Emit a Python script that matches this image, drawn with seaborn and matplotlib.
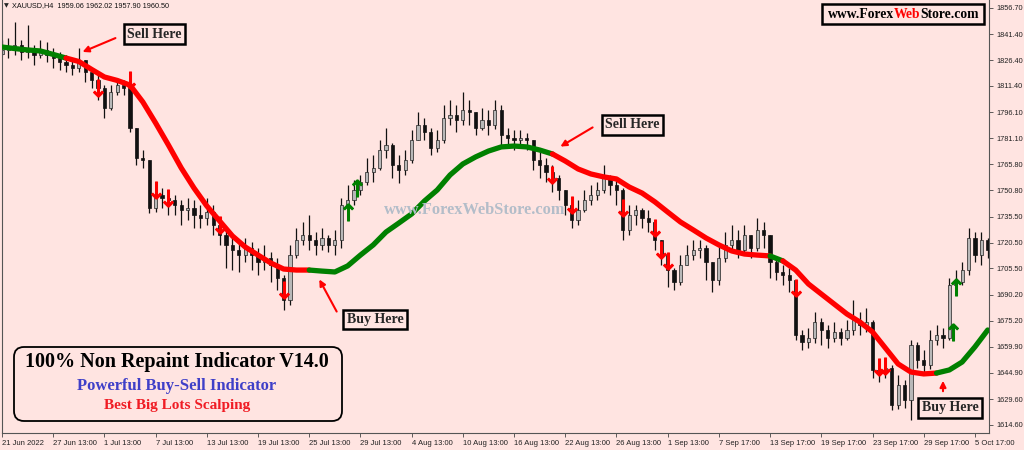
import numpy as np
import pandas as pd
import seaborn as sns
import matplotlib.pyplot as plt
from matplotlib.patches import FancyBboxPatch, Rectangle

# ---- data (XAUUSD H4, one candle per 3 bars) ----
first_open = 1830.0
closes = [1832.3, 1833.4, 1835.2, 1831.1, 1832.3, 1829.4, 1832.3, 1829.4, 1827.6, 1825.3,
          1823.6, 1821.8, 1826.5, 1819.5, 1814.9, 1810.2, 1798.6, 1807.9, 1811.9, 1810.2,
          1787.0, 1769.6, 1768.4, 1740.5, 1748.1, 1746.3, 1745.2, 1742.3, 1739.4, 1740.5,
          1736.5, 1734.7, 1738.2, 1730.7, 1724.9, 1719.1, 1716.1, 1713.2, 1717.3, 1713.2,
          1709.2, 1711.5, 1707.4, 1699.9, 1687.1, 1713.2, 1722.0, 1724.9, 1722.0, 1719.1,
          1723.1, 1719.1, 1722.0, 1742.3, 1745.2, 1751.0, 1755.6, 1761.4, 1763.8, 1774.2,
          1777.1, 1765.5, 1762.6, 1768.4, 1780.0, 1788.7, 1784.7, 1775.4, 1780.0, 1792.8,
          1794.5, 1791.6, 1797.4, 1796.3, 1787.0, 1791.6, 1788.7, 1797.4, 1782.9, 1781.2,
          1780.0, 1781.2, 1780.0, 1768.4, 1765.5, 1761.4, 1758.0, 1751.0, 1742.3, 1733.6,
          1739.4, 1745.2, 1748.1, 1751.0, 1758.0, 1753.9, 1751.0, 1727.8, 1736.5, 1739.4,
          1734.7, 1732.4, 1722.0, 1713.2, 1704.5, 1697.6, 1707.4, 1713.2, 1716.1, 1717.3,
          1709.2, 1698.7, 1711.5, 1719.1, 1722.0, 1716.1, 1724.9, 1717.3, 1727.8, 1724.9,
          1709.2, 1703.4, 1701.6, 1698.7, 1666.8, 1662.7, 1665.1, 1674.4, 1669.7, 1665.1,
          1668.5, 1665.1, 1669.7, 1675.5, 1672.6, 1674.4, 1646.5, 1645.3, 1647.6, 1626.2,
          1637.8, 1629.1, 1661.0, 1652.3, 1649.4, 1663.9, 1666.8, 1665.1, 1695.8, 1697.6,
          1704.5, 1723.1, 1713.2, 1722.0, 1716.1]
highs = [1838.1, 1839.3, 1848.6, 1838.1, 1846.8, 1835.2, 1838.1, 1836.9, 1833.4, 1831.1,
         1829.4, 1827.6, 1833.4, 1826.5, 1821.8, 1817.8, 1811.9, 1811.9, 1816.0, 1814.9,
         1814.9, 1787.0, 1774.2, 1768.4, 1753.9, 1752.1, 1751.0, 1748.1, 1745.2, 1746.3,
         1745.2, 1742.3, 1746.3, 1742.3, 1732.4, 1727.8, 1724.9, 1722.0, 1723.1, 1720.8,
         1717.3, 1719.1, 1715.0, 1711.5, 1701.6, 1719.1, 1728.9, 1732.4, 1736.5, 1726.6,
         1728.9, 1724.9, 1727.8, 1746.3, 1753.9, 1756.8, 1759.7, 1769.6, 1771.3, 1780.0,
         1787.0, 1778.0, 1771.3, 1774.2, 1785.8, 1796.3, 1792.8, 1787.0, 1785.8, 1800.3,
         1803.2, 1800.3, 1807.9, 1803.2, 1796.3, 1798.6, 1797.4, 1803.2, 1800.3, 1787.0,
         1785.8, 1785.8, 1784.1, 1780.0, 1773.0, 1769.6, 1765.5, 1759.7, 1751.0, 1742.3,
         1745.2, 1751.0, 1753.9, 1755.6, 1765.5, 1759.7, 1758.0, 1752.1, 1742.3, 1742.3,
         1740.5, 1739.4, 1733.6, 1722.0, 1713.2, 1705.7, 1713.2, 1719.1, 1722.0, 1722.0,
         1719.1, 1709.2, 1719.1, 1726.6, 1730.7, 1727.8, 1730.7, 1724.9, 1734.7, 1732.4,
         1724.9, 1710.3, 1707.4, 1705.7, 1698.7, 1669.7, 1670.9, 1680.2, 1676.7, 1672.6,
         1674.4, 1670.9, 1675.5, 1687.1, 1680.2, 1682.5, 1675.5, 1651.1, 1653.4, 1649.4,
         1643.6, 1640.7, 1663.9, 1662.7, 1658.1, 1669.7, 1672.6, 1670.9, 1699.9, 1704.5,
         1709.2, 1728.9, 1726.6, 1726.6, 1723.1]
lows = [1829.4, 1827.6, 1829.4, 1826.5, 1827.6, 1823.6, 1827.6, 1825.3, 1821.8, 1820.7,
        1819.5, 1817.8, 1819.5, 1813.7, 1810.2, 1803.2, 1792.8, 1797.4, 1806.1, 1806.1,
        1784.7, 1765.5, 1763.8, 1737.6, 1738.2, 1740.5, 1736.5, 1736.5, 1730.7, 1733.6,
        1728.9, 1728.9, 1730.7, 1724.9, 1719.1, 1705.7, 1704.5, 1703.4, 1709.2, 1704.5,
        1701.6, 1704.5, 1697.6, 1692.9, 1681.3, 1684.0, 1711.5, 1719.1, 1716.1, 1713.2,
        1716.1, 1715.0, 1713.2, 1717.3, 1738.2, 1742.3, 1748.1, 1753.9, 1755.6, 1762.6,
        1769.6, 1758.0, 1755.1, 1759.7, 1766.5, 1780.0, 1780.0, 1771.3, 1773.0, 1778.5,
        1788.7, 1784.7, 1788.7, 1788.7, 1782.9, 1785.8, 1782.9, 1786.5, 1777.1, 1775.4,
        1774.2, 1775.4, 1774.2, 1762.6, 1758.0, 1755.6, 1749.8, 1745.2, 1736.5, 1728.9,
        1730.7, 1738.2, 1742.3, 1745.2, 1749.0, 1748.1, 1742.3, 1722.0, 1724.9, 1730.7,
        1728.9, 1726.6, 1716.1, 1707.4, 1694.7, 1692.9, 1695.8, 1707.4, 1710.3, 1711.5,
        1698.7, 1691.8, 1695.8, 1709.0, 1716.1, 1711.5, 1714.0, 1711.5, 1715.5, 1717.3,
        1699.9, 1698.7, 1695.8, 1691.8, 1663.9, 1658.1, 1659.3, 1662.0, 1661.0, 1659.3,
        1662.7, 1661.0, 1663.9, 1666.8, 1666.8, 1668.5, 1641.8, 1639.5, 1641.8, 1623.3,
        1624.0, 1624.4, 1617.4, 1647.6, 1643.6, 1647.0, 1661.0, 1659.3, 1663.9, 1691.8,
        1695.8, 1701.6, 1709.2, 1707.4, 1711.5]

# indicator line, sampled every 2 candles, with its trend colour (U = green, D = red)
line_idx = list(range(0, 155, 2))
line_vals = [1834.0, 1833.1, 1832.3, 1831.7, 1829.7, 1827.6, 1825.6, 1821.0, 1816.6, 1814.6,
             1811.9, 1802.1, 1789.9, 1777.1, 1763.8, 1752.1, 1741.7, 1733.0, 1724.3, 1717.9,
             1713.2, 1708.6, 1705.1, 1704.5, 1704.5, 1703.9, 1703.4, 1706.9, 1713.2, 1719.1,
             1726.6, 1731.8, 1737.1, 1744.6, 1751.0, 1759.7, 1766.1, 1770.2, 1773.6, 1776.0,
             1776.5, 1776.0, 1774.2, 1771.9, 1767.8, 1763.2, 1760.3, 1758.6, 1757.4, 1752.7,
             1749.2, 1744.1, 1738.2, 1732.4, 1727.8, 1723.1, 1719.1, 1715.6, 1713.8, 1713.2,
             1712.7, 1709.8, 1704.5, 1696.4, 1690.6, 1684.8, 1679.0, 1674.4, 1668.6, 1659.3,
             1650.0, 1645.3, 1644.2, 1644.7, 1646.5, 1651.1, 1659.9, 1669.7]
line_trend = ("UUUUU" "DDDDDDDDDDDDDDDDDDD" "UUUUUUUUUUUUUUUUUUU"
              "DDDDDDDDDDDDDDDDD" "U" "DDDDDDDDDDDD" "UUUUU")

# signal arrows (candle index, price)
sell_idx = [15, 20, 24, 26, 34, 44, 86, 89, 97, 102, 103, 104, 124, 137, 138]
sell_price = [1810.2, 1814.9, 1751.0, 1746.3, 1730.7, 1692.9, 1759.7, 1742.3, 1740.5,
              1728.9, 1716.1, 1709.8, 1694.1, 1648.2, 1649.0]
buy_idx = [54, 55.5, 148.6, 149]
buy_price = [1738.2, 1752.1, 1668.5, 1694.7]

date_labels = ["21 Jun 2022", "27 Jun 13:00", "1 Jul 13:00", "7 Jul 13:00", "13 Jul 13:00",
               "19 Jul 13:00", "25 Jul 13:00", "29 Jul 13:00", "4 Aug 13:00", "10 Aug 13:00",
               "16 Aug 13:00", "22 Aug 13:00", "26 Aug 13:00", "1 Sep 13:00", "7 Sep 17:00",
               "13 Sep 17:00", "19 Sep 17:00", "23 Sep 17:00", "29 Sep 17:00", "5 Oct 17:00"]
price_ticks = [1856.70, 1841.40, 1826.40, 1811.40, 1796.10, 1781.10, 1765.80, 1750.80,
               1735.50, 1720.50, 1705.50, 1690.20, 1675.20, 1659.90, 1644.90, 1629.60, 1614.60]

BG = "#ffe4e1"
RED = "#ff0000"
GREEN = "#008000"
SERIF = "Liberation Serif"
SANS = "Liberation Sans"

sns.set_theme(style="white")
plt.rcParams["font.family"] = ["Liberation Sans", "DejaVu Sans"]

fig = plt.figure(figsize=(10.24, 4.5), dpi=100)
fig.patch.set_facecolor(BG)
ax = fig.add_axes([2 / 1024, 17 / 450, 987 / 1024, 433 / 450])
ax.set_facecolor(BG)

# ---- candles ----
opens = [first_open] + closes[:-1]
cdf = pd.DataFrame({"idx": np.arange(len(closes)), "open": opens, "high": highs,
                    "low": lows, "close": closes})
ax.vlines(cdf["idx"], cdf["low"], cdf["high"], color="#111111", lw=0.9, zorder=2)
bull = cdf["close"] >= cdf["open"]
up = cdf[bull]
dn = cdf[~bull]
ax.bar(up["idx"], (up["close"] - up["open"]).clip(lower=0.5), bottom=up["open"], width=0.5,
       color="#b8b8b8", edgecolor="#222222", linewidth=0.5, zorder=2)
ax.bar(dn["idx"], (dn["open"] - dn["close"]).clip(lower=0.5), bottom=dn["close"], width=0.5,
       color="#111111", edgecolor="#111111", linewidth=0.5, zorder=2)

# ---- indicator line, split into coloured runs ----
rows = []
run = 0
for k in range(len(line_idx)):
    rows.append((line_idx[k], line_vals[k], f"r{run}", line_trend[k]))
    if k + 1 < len(line_idx) and line_trend[k + 1] != line_trend[k]:
        rows.append((line_idx[k + 1], line_vals[k + 1], f"r{run}", line_trend[k]))
        run += 1
ldf = pd.DataFrame(rows, columns=["x", "y", "run", "trend"])
run_colors = {r: (GREEN if t == "U" else RED)
              for r, t in ldf.groupby("run")["trend"].first().items()}
sns.lineplot(data=ldf, x="x", y="y", hue="run", palette=run_colors, linewidth=3.8,
             legend=False, sort=False, estimator=None, ax=ax, zorder=3,
             solid_capstyle="round")

# ---- signal arrows ----
sns.scatterplot(x=sell_idx, y=sell_price, marker=r"$\downarrow$", s=150, color=RED,
                edgecolor=RED, linewidth=0.8, ax=ax, zorder=4, legend=False)
sns.scatterplot(x=buy_idx, y=buy_price, marker=r"$\uparrow$", s=150, color=GREEN,
                edgecolor=GREEN, linewidth=0.8, ax=ax, zorder=4, legend=False)

# ---- axes ----
ax.set_xlim(0, 154.2)
ax.set_ylim(1609.9, 1861.3)
ax.set_xticks(range(0, 8 * len(date_labels), 8))
ax.set_xticklabels(date_labels, ha="left", fontsize=5.5, color="#222222", family=SANS)
ax.yaxis.tick_right()
ax.set_yticks(price_ticks)
ax.set_yticklabels([f"{p:.2f}" for p in price_ticks], fontsize=5.3, color="#222222",
                   family=SANS)
ax.tick_params(axis="both", direction="out", length=3, width=0.6, color="#444444", pad=2)
ax.tick_params(axis="x", bottom=True)
ax.tick_params(axis="y", right=True, left=False)
ax.set_xlabel("")
ax.set_ylabel("")
for side in ["left", "right", "bottom"]:
    ax.spines[side].set_color("#555555")
    ax.spines[side].set_linewidth(0.8)
ax.spines["top"].set_visible(False)


def px(x, y):
    return x / 1024, 1 - y / 450


# header
fig.text(*px(4, 6), "\u25bc", fontsize=4.5, family="DejaVu Sans", va="center", ha="left")
fig.text(*px(12, 6), "XAUUSD,H4  1959.06 1962.02 1957.90 1960.50", fontsize=5.2,
         family=SANS, color="#111111", va="center", ha="left")

# watermark
fig.text(*px(475, 210), "www.ForexWebStore.com", fontsize=11.8, fontweight="bold",
         family=SERIF, color="#b3bdc9", ha="center", va="center", zorder=1)

# "Sell Here" / "Buy Here" notes
box = dict(boxstyle="square,pad=0.25", fc=BG, ec="black", lw=1.8)
notes = [("Sell Here", (154.5, 34), (118, 37), (80, 53)),
         ("Sell Here", (632.5, 125), (595, 126), (558, 148)),
         ("Buy Here", (375, 319.5), (338, 314), (318, 277)),
         ("Buy Here", (950, 408), (943, 394), (943, 378))]
for text, center, tail, head in notes:
    fig.text(*px(*center), text, fontsize=10, fontweight="bold", family=SERIF,
             ha="center", va="center", bbox=box, zorder=6)
    ax.annotate("", xy=(head[0], 450 - head[1]), xycoords="figure pixels",
                xytext=(tail[0], 450 - tail[1]), textcoords="figure pixels",
                arrowprops=dict(arrowstyle="-|>", color=RED, lw=1.5, mutation_scale=9),
                zorder=6)

# website box
fig.patches.append(Rectangle((822, 450 - 24), 162, 20, transform=None, fc=BG,
                             ec="black", lw=1.8, zorder=5))
renderer = fig.canvas.get_renderer()
x0 = 828
for piece, col in [("www.Forex", "black"), ("Web", RED), ("Store.com", "black")]:
    t = fig.text(x0 / 1024, 1 - 14.5 / 450, piece, color=col, fontsize=9.8,
                 fontweight="bold", family=SERIF, va="center", ha="left", zorder=6)
    x0 += t.get_window_extent(renderer).width

# info box
fig.patches.append(FancyBboxPatch((0.14, 0.29), 3.28, 0.74,
                                  boxstyle="round,pad=0,rounding_size=0.1",
                                  transform=fig.dpi_scale_trans, fc=BG, ec="black",
                                  lw=1.3, zorder=5))
fig.text(*px(177, 362), "100% Non Repaint Indicator V14.0", fontsize=14.5,
         fontweight="bold", family=SERIF, color="black", ha="center", va="center", zorder=6)
fig.text(*px(177, 386), "Powerful Buy-Sell Indicator", fontsize=12, fontweight="bold",
         family=SERIF, color="#3f3fc8", ha="center", va="center", zorder=6)
fig.text(*px(177, 406), "Best Big Lots Scalping", fontsize=11, fontweight="bold",
         family=SERIF, color="#f01c24", ha="center", va="center", zorder=6)

fig.savefig("out.png", dpi=100, facecolor=BG)
